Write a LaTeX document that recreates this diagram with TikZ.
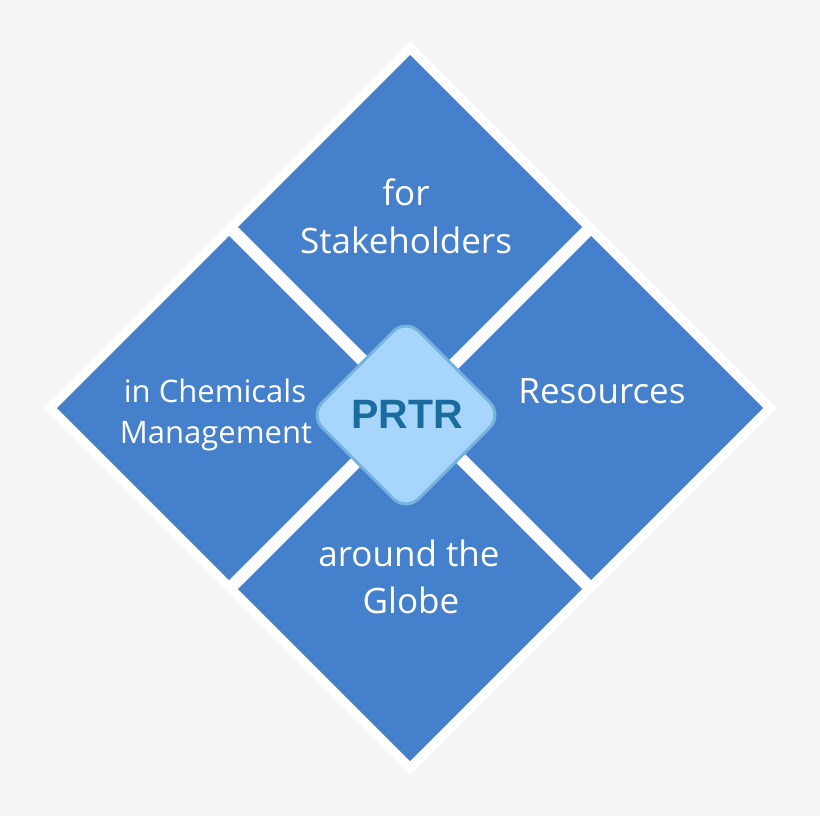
\documentclass[tikz,border=0pt]{standalone}
\usepackage{fontspec}
\setmainfont{Open Sans}
\newfontfamily\prtrfont{Liberation Sans}
\usetikzlibrary{shapes.geometric}
\definecolor{pagegray}{HTML}{F5F5F5}
\definecolor{quadblue}{HTML}{4580CC}
\definecolor{hubfill}{HTML}{A8D5FC}
\definecolor{hubline}{HTML}{74B3DE}
\definecolor{hubtext}{HTML}{1A6B9E}
\tikzset{
quadnode/.style = {diamond, aspect=1, minimum size=#1, inner sep=0pt, outer sep=0pt, fill=quadblue},
quadnode/.default = 344pt % full diagonal of one blue quarter
}
\tikzset{
wordnode/.style = {anchor=base, inner sep=0pt, text=white, font=\fontsize{#1}{#1}\selectfont},
wordnode/.default = 35
}

\begin{document}
\begin{tikzpicture}[x=1pt,y=-1pt]
    \fill [pagegray] (0,0) rectangle (820,816);
    \useasboundingbox (0,0) rectangle (820,816);
    % white frame and the four quarters
    \node [diamond, aspect=1, minimum size=734pt, inner sep=0pt, fill=white] (frame) at (410,408) {};
    \node [quadnode] (top) at (410,227) {};
    \node [quadnode] (left) at (229,408) {};
    \node [quadnode] (right) at (591,408) {};
    \node [quadnode] (bottom) at (410,589) {};
    % texts
    \node [wordnode] (for) at (406,205) {for};
    \node [wordnode] (stake) at (406,253) {Stakeholders};
    \node [wordnode=31] (chem) at (215,402) {in Chemicals};
    \node [wordnode=31] (manage) at (216,443) {Management};
    \node [wordnode] (res) at (602,403) {Resources};
    \node [wordnode] (around) at (409,566) {around the};
    \node [wordnode] (globe) at (411,613) {Globe};
    % centre
    \node [diamond, aspect=1, minimum size=194pt, inner sep=0pt, rounded corners=18pt,
           fill=hubfill, draw=hubline, line width=3pt] (hub) at (406,415) {};
    \node [anchor=base, inner sep=0pt, text=hubtext, font=\prtrfont\bfseries\fontsize{41}{41}\selectfont] (prtr) at (407,428) {PRTR};
\end{tikzpicture}
\end{document}
